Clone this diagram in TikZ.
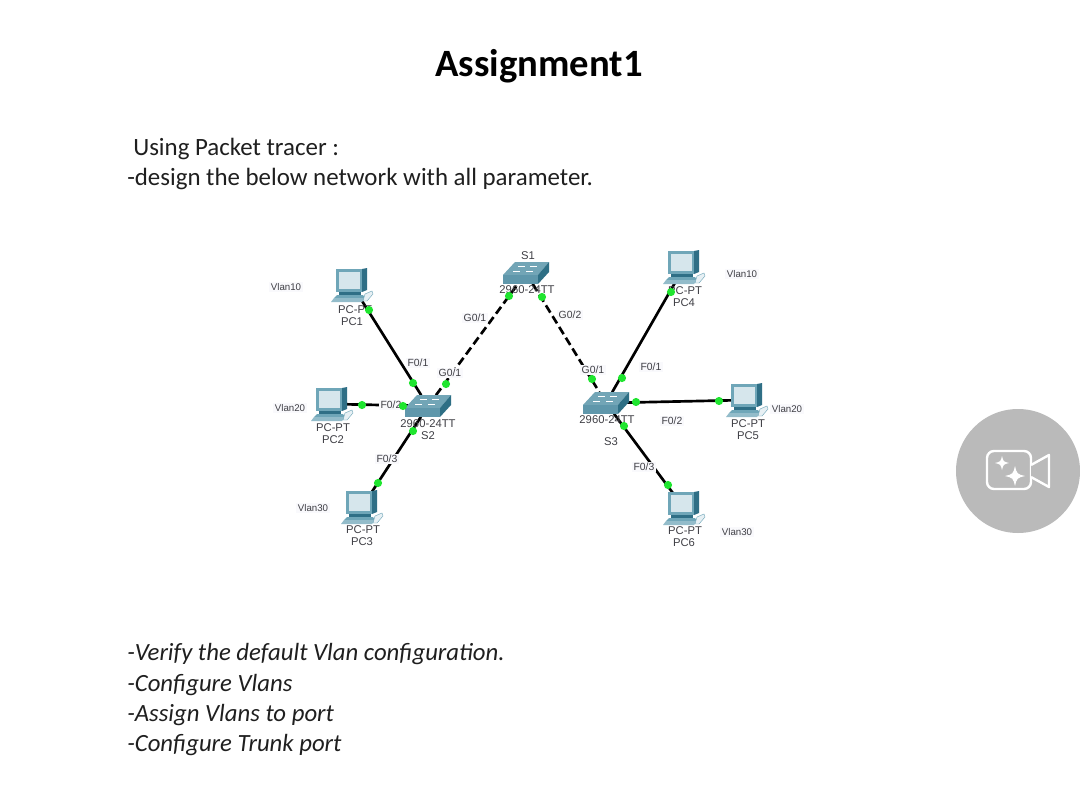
\documentclass[tikz,border=0pt]{standalone}
\usepackage{fontspec}
\usepackage{xcolor}
\setmainfont{Carlito}
\newfontfamily\labelfont{Liberation Sans}
\usetikzlibrary{arrows.meta,shapes}
\definecolor{pcside}{HTML}{2F6F86}
\definecolor{pcframe}{HTML}{6FA6B8}
\definecolor{pcscreen}{HTML}{D6E6EC}
\definecolor{swtop}{HTML}{72A5B6}
\definecolor{swfront}{HTML}{5F97AB}
\definecolor{swside}{HTML}{2E6F85}
\definecolor{portgreen}{HTML}{1FE52F}
\definecolor{labelgray}{HTML}{3F3F45}
\definecolor{labelback}{HTML}{F9F9FC}
\definecolor{camgray}{HTML}{BABABA}
\tikzset{
devbox/.style={minimum width=20pt,minimum height=15pt,inner sep=0pt},
link/.style={line width=1.9pt,black},
trunk/.style={line width=1.9pt,black,dash pattern=on 6pt off 3pt},
portdot/.style={shape=circle,fill=portgreen,inner sep=0pt,minimum size=5.8pt},
devlabel/.style={text=labelgray,inner sep=0.5pt,font=\labelfont\fontsize{8}{9}\selectfont},
portlabel/.style={text=labelgray,fill=labelback,inner sep=1pt,font=\labelfont\fontsize{7.4}{9}\selectfont},
vlanlabel/.style={text=labelgray,fill=labelback,inner sep=1pt,font=\labelfont\fontsize{6.9}{9}\selectfont},
bodytext/.style={anchor=west,inner sep=0pt,text=black!88,font=\fontsize{17.7}{22}\selectfont},
tasktext/.style={anchor=west,inner sep=0pt,text=black!88,font=\itshape\fontsize{17.6}{22}\selectfont}
}
% computer icon, #1 = name of its node
\newcommand{\pcicon}[1]{
\begin{scope}[shift={(#1.center)}]
\fill[pcside](10,-16)--(15,-17)--(15,5)--(10,7)--cycle;
\fill[pcframe](-16,-16)--(10,-16)--(10,7)--(-16,7)--cycle;
\fill[pcscreen](-13,-13)--(8,-13)--(8,4)--(-13,4)--cycle;
\fill[pcside](-13,7)--(9,7)--(9,10)--(-13,10)--cycle;
\fill[pcframe](-15,10)--(11,10)--(13,13)--(-18,13)--cycle;
\fill[pcframe!75!white](-18,13)--(13,13)--(10,17)--(-21,17)--cycle;
\fill[pcscreen!60!white,draw=pcframe,line width=0.3pt](13,9)--(20,6)--(21,9)--(15,16)--(11,16)--cycle;
\end{scope}
}
% switch icon, #1 = name of its node
\newcommand{\swicon}[1]{
\begin{scope}[shift={(#1.center)}]
\fill[swtop](-23,2)--(-11,-11)--(23,-11)--(12,2)--cycle;
\fill[swfront](-23,2)--(12,2)--(12,11)--(-23,11)--cycle;
\fill[swside](12,2)--(23,-11)--(23,-1)--(12,11)--cycle;
\draw[white,line width=0.5pt](-8,-7)--(-1,-7)(4,-7)--(11,-7)(-13,-2)--(-6,-2)(0,-2)--(7,-2);
\end{scope}
}
\newcommand{\sparkle}[3]{
\fill[white](#1-#3,#2)..controls(#1-0.2*#3,#2-0.2*#3)..(#1,#2-#3)..controls(#1+0.2*#3,#2-0.2*#3)..(#1+#3,#2)..controls(#1+0.2*#3,#2+0.2*#3)..(#1,#2+#3)..controls(#1-0.2*#3,#2+0.2*#3)..(#1-#3,#2)--cycle;
}
\begin{document}
\begin{tikzpicture}[x=0.025cm,y=-0.025cm]
\useasboundingbox(0,0)rectangle(1080,802);
\fill[white](0,0)rectangle(1080,802);
\node[anchor=center,inner sep=0pt,text=black,font=\bfseries\fontsize{27.5}{32}\selectfont](title)at(539,66){Assignment1};
\node[bodytext](lineA)at(133,149){Using Packet tracer :};
\node[bodytext](lineB)at(127,179){-design the below network with all parameter.};
\node[tasktext](taskA)at(127,654){-Verify the default Vlan configuration.};
\node[tasktext](taskB)at(127,685){-Configure Vlans};
\node[tasktext](taskC)at(127,715){-Assign Vlans to port};
\node[tasktext](taskD)at(127,745){-Configure Trunk port};
%devices
\node[devbox](PCa)at(352,285){};
\node[devbox](PCb)at(332,404){};
\node[devbox](PCc)at(362,507){};
\node[devbox](PCd)at(684,267){};
\node[devbox](PCe)at(747,400){};
\node[devbox](PCf)at(684,508){};
\node[devbox](Sa)at(526,273){};
\node[devbox](Sb)at(428,406){};
\node[devbox](Sc)at(606,403){};
%links
\draw[link](PCa)--(Sb);
\draw[link](PCb)--(Sb);
\draw[link](PCc)--(Sb);
\draw[link](PCd)--(Sc);
\draw[link](PCe)--(Sc);
\draw[link](PCf)--(Sc);
\draw[trunk](Sb)--(Sa);
\draw[trunk](Sa)--(Sc);
\pcicon{PCa}
\pcicon{PCb}
\pcicon{PCc}
\pcicon{PCd}
\pcicon{PCe}
\pcicon{PCf}
\swicon{Sa}
\swicon{Sb}
\swicon{Sc}
%device labels
\node[devlabel](nameSa)at(528,256){S1};
\node[devlabel](typeSa)at(527,290){2960-24TT};
\node[devlabel](typeSb)at(428,424){2960-24TT};
\node[devlabel](nameSb)at(428,436){S2};
\node[devlabel](typeSc)at(607,420){2960-24TT};
\node[devlabel](nameSc)at(611,442){S3};
\node[devlabel](typePCa)at(355,310){PC-PT};
\node[devlabel](namePCa)at(352,322){PC1};
\node[devlabel](typePCb)at(333,428){PC-PT};
\node[devlabel](namePCb)at(333,440){PC2};
\node[devlabel](typePCc)at(363,530){PC-PT};
\node[devlabel](namePCc)at(362,542){PC3};
\node[devlabel](typePCd)at(685,291){PC-PT};
\node[devlabel](namePCd)at(684,303){PC4};
\node[devlabel](typePCe)at(748,424){PC-PT};
\node[devlabel](namePCe)at(748,436){PC5};
\node[devlabel](typePCf)at(685,531){PC-PT};
\node[devlabel](namePCf)at(684,543){PC6};
%port labels
\node[portlabel](portA)at(418,363){F0/1};
\node[portlabel](portB)at(450,373){G0/1};
\node[portlabel](portC)at(391,405){F0/2};
\node[portlabel](portD)at(387,459){F0/3};
\node[portlabel](portE)at(475,318){G0/1};
\node[portlabel](portF)at(570,315){G0/2};
\node[portlabel](portG)at(593,370){G0/1};
\node[portlabel](portH)at(651,367){F0/1};
\node[portlabel](portI)at(672,421){F0/2};
\node[portlabel](portJ)at(644,467){F0/3};
%vlan labels
\node[vlanlabel](vlanA)at(286,287){Vlan10};
\node[vlanlabel](vlanB)at(290,408){Vlan20};
\node[vlanlabel](vlanC)at(313,508){Vlan30};
\node[vlanlabel](vlanD)at(742,274){Vlan10};
\node[vlanlabel](vlanE)at(787,409){Vlan20};
\node[vlanlabel](vlanF)at(737,532){Vlan30};
%green ports
\node[portdot](dotA)at(369,310){};
\node[portdot](dotB)at(413,383){};
\node[portdot](dotC)at(446,384){};
\node[portdot](dotD)at(362,405){};
\node[portdot](dotE)at(403,406){};
\node[portdot](dotF)at(413,431){};
\node[portdot](dotG)at(378,483){};
\node[portdot](dotH)at(509,296){};
\node[portdot](dotI)at(542,297){};
\node[portdot](dotJ)at(592,379){};
\node[portdot](dotK)at(622,378){};
\node[portdot](dotL)at(636,402){};
\node[portdot](dotM)at(719,401){};
\node[portdot](dotN)at(624,426){};
\node[portdot](dotO)at(668,485){};
\node[portdot](dotP)at(671,292){};
%camera button
\fill[camgray](1018,471)circle(62);
\draw[white,line width=1.7pt,rounded corners=5pt](987,451)--(1031,451)--(1031,489)--(987,489)--cycle;
\draw[white,line width=1.7pt,line join=round,fill=camgray](1031,465)--(1049,455)--(1049,487)--(1031,477);
\sparkle{1002}{463}{7}
\sparkle{1015}{476}{10}
\end{tikzpicture}
\end{document}
